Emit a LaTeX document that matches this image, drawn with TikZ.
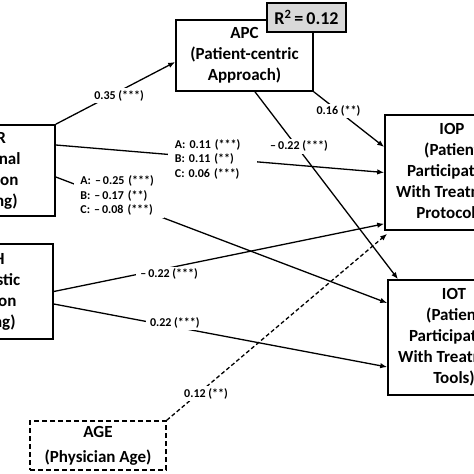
\documentclass[tikz,border=0pt]{standalone}
\usepackage{fontspec}
\setmainfont{Carlito}
\usetikzlibrary{arrows.meta,calc}
\begin{document}
\begin{tikzpicture}[x=1pt,y=-1pt,
  box/.style={draw=black,line width=1.6pt,fill=white,align=center,font=\fontsize{17}{21}\selectfont\bfseries,inner sep=0pt},
  lbl/.style={fill=white,font=\fontsize{12}{14.5}\selectfont\bfseries,inner xsep=4pt,inner ysep=2pt},
  conn/.style={line width=1.3pt,-{Latex[length=7pt,width=5.5pt]}},
  dconn/.style={conn,dash pattern=on 4pt off 2.5pt},
]
\useasboundingbox (0,0) rectangle (474,474);
\clip (0,0) rectangle (474,474);
% boxes
\node[box,minimum width=133pt,minimum height=91pt] (DMR) at (-11.5,170.5) {DMR\\(Rational\\Decision\\Making)};
\node[box,minimum width=133pt,minimum height=95pt] (DMH) at (-13.5,291.5) {DMH\\(Heuristic\\Decision\\Making)};
\node[box,minimum width=137pt,minimum height=71pt] (APC) at (244.5,55.5) {APC\\(Patient-centric\\Approach)};
\node[box,minimum width=134pt,minimum height=115pt] (IOP) at (452,172.5) {IOP\\(Patient\\Participation\\With Treatment\\Protocols)};
\node[box,minimum width=132pt,minimum height=115pt] (IOT) at (454,337.5) {IOT\\(Patient\\Participation\\With Treatment\\Tools)};
\node[box,dash pattern=on 5pt off 3pt,minimum width=136pt,minimum height=49pt] (AGE) at (98,445.5) {AGE\\[4pt](Physician Age)};
\node[box,fill={rgb,255:red,217;green,217;blue,217},minimum width=79pt,minimum height=29pt,font=\fontsize{18}{21}\selectfont\bfseries] (R2) at (306.5,17.5) {R\textsuperscript{2}\,=\,0.12};
% connectors
\draw[conn] (DMR.north east) -- ([yshift=-6.5pt]APC.west)
  node[lbl,pos=0.53,yshift=-4.5pt] (l1) {0.35 (***)};
\draw[conn] ([yshift=25.5pt]DMR.east) -- (IOP.west)
  node[lbl,pos=0.477,yshift=-1pt,align=left,inner xsep=7pt,text width=75pt] (l2) {A: 0.11 (***)\\B: 0.11 (**)\\C: 0.06 (***)};
\draw[conn] ([yshift=-6.5pt]DMR.east) -- ([yshift=34.5pt]IOT.west)
  node[lbl,pos=0.192,yshift=5.5pt,align=left,inner xsep=6pt,text width=78pt] (l3) {A: –\,0.25 (***)\\B: –\,0.17 (**)\\C: –\,0.08 (***)};
\draw[conn] (APC.south east) -- ([yshift=25.5pt]IOP.west)
  node[lbl,pos=0.35] (l4) {0.16 (**)};
\draw[conn] ([xshift=10.5pt]APC.south) -- ([xshift=-56pt]IOT.north)
  node[lbl,pos=0.29,xshift=2.5pt] (l5) {–\,0.22 (***)};
\draw[conn] (DMH.east) -- ([yshift=7pt]IOP.south west)
  node[lbl,pos=0.349,yshift=-6pt] (l6) {–\,0.22 (***)};
\draw[conn] ([yshift=-12.5pt]DMH.east) -- ([yshift=-29.5pt]IOT.west)
  node[lbl,pos=0.363,yshift=4pt] (l7) {0.22 (***)};
\draw[dconn] (AGE.north east) -- ([xshift=3pt,yshift=-3pt]IOP.south west)
  node[lbl,pos=0.178,yshift=-6.5pt] (l8) {0.12 (**)};
\end{tikzpicture}
\end{document}
